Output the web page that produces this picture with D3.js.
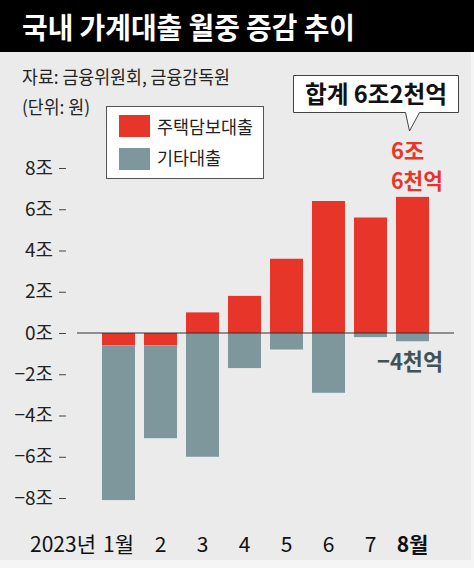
<!DOCTYPE html>
<html>
<head>
<meta charset="utf-8">
<script src="https://cdn.jsdelivr.net/npm/d3@7"></script>
<style>
  body { margin: 0; background: #f5f5f5; }
  svg { display: block; }
  text { font-family: "Liberation Sans Narrow", "Noto Sans CJK KR", sans-serif; }
  .kr { font-family: "Noto Sans CJK KR", sans-serif; }
</style>
</head>
<body>
<svg width="474" height="568"></svg>
<script>
// 월별 가계대출 증감 (조원)
const months = ['1월', '2', '3', '4', '5', '6', '7', '8월'];
const mortgage = [-0.6, -0.6, 1.0, 1.8, 3.6, 6.4, 5.6, 6.6];
const other = [-7.5, -4.5, -6.0, -1.7, -0.8, -2.9, -0.2, -0.4];
const yTicks = [8, 6, 4, 2, 0, -2, -4, -6, -8];
const seriesNames = ['주택담보대출', '기타대출'];
const colors = ['#e8352a', '#7d979c'];

const svg = d3.select('svg');

// background panel + title bar
svg.append('rect').attr('x', 0).attr('y', 0).attr('width', 471).attr('height', 560).attr('fill', '#ebebeb');
svg.append('rect').attr('x', 0).attr('y', 0).attr('width', 474).attr('height', 52).attr('fill', '#000');
svg.append('text').attr('class', 'kr')
  .attr('x', 22).attr('y', 39)
  .attr('fill', '#fff').attr('font-size', 29).attr('font-weight', 700)
  .attr('textLength', 333).attr('lengthAdjust', 'spacingAndGlyphs')
  .text('국내 가계대출 월중 증감 추이');

svg.append('text').attr('class', 'kr').attr('x', 22).attr('y', 84)
  .attr('font-size', 18).attr('fill', '#222')
  .attr('textLength', 208).attr('lengthAdjust', 'spacingAndGlyphs')
  .text('자료: 금융위원회, 금융감독원');
svg.append('text').attr('class', 'kr').attr('x', 22).attr('y', 114)
  .attr('font-size', 18).attr('fill', '#222')
  .attr('textLength', 68).attr('lengthAdjust', 'spacingAndGlyphs')
  .text('(단위: 원)');

// scales
const yScale = d3.scaleLinear().domain([-8, 8]).range([498, 168]);
const xScale = d3.scaleBand().domain(months).range([93, 438]).padding(0.214);

// y axis
const yAxis = svg.append('g')
  .attr('transform', 'translate(66,0)')
  .call(d3.axisLeft(yScale).tickValues(yTicks).tickSize(7).tickPadding(6)
    .tickFormat(d => (d < 0 ? '\u2212' + (-d) : d) + '조'));
yAxis.select('.domain').remove();
yAxis.selectAll('line').attr('stroke', '#444');
yAxis.selectAll('text').attr('font-size', 19).attr('fill', '#222')
  .style('font-family', '"Liberation Sans Narrow", "Noto Sans CJK KR", sans-serif');

// stacked bars (diverging)
const table = months.map((m, i) => ({ month: m, 주택담보대출: mortgage[i], 기타대출: other[i] }));
const stacked = d3.stack().keys(seriesNames).offset(d3.stackOffsetDiverging)(table);

svg.append('g').selectAll('g').data(stacked).enter().append('g')
  .attr('fill', (s, i) => colors[i])
  .selectAll('rect').data(s => s).enter().append('rect')
  .attr('x', d => xScale(d.data.month))
  .attr('y', d => yScale(Math.max(d[0], d[1])))
  .attr('height', d => Math.abs(yScale(d[0]) - yScale(d[1])))
  .attr('width', xScale.bandwidth());

// zero line
svg.append('line')
  .attr('x1', 77).attr('x2', 454)
  .attr('y1', yScale(0)).attr('y2', yScale(0))
  .attr('stroke', '#333').attr('stroke-width', 1);

// x axis
const xAxis = svg.append('g')
  .attr('transform', 'translate(0,532)')
  .call(d3.axisBottom(xScale).tickSize(0).tickPadding(0));
xAxis.select('.domain').remove();
xAxis.selectAll('text').attr('font-size', 21).attr('fill', '#111')
  .attr('dy', '0.95em')
  .style('font-family', '"Liberation Sans Narrow", "Noto Sans CJK KR", sans-serif')
  .attr('font-weight', (d, i) => i === months.length - 1 ? 700 : 400);
svg.append('text')
  .attr('x', 96).attr('y', 552).attr('text-anchor', 'end')
  .attr('font-size', 21).attr('fill', '#111')
  .text('2023년');

// legend
const legend = svg.append('g');
legend.append('rect').attr('x', 106.5).attr('y', 106.5).attr('width', 157).attr('height', 72)
  .attr('fill', '#fff').attr('stroke', '#555');
seriesNames.forEach((name, i) => {
  legend.append('rect').attr('x', 119).attr('y', 115 + i * 33).attr('width', 31).attr('height', 22)
    .attr('fill', colors[i]);
  legend.append('text').attr('class', 'kr').attr('x', 157).attr('y', 134 + i * 31)
    .attr('font-size', 18).attr('fill', '#222')
    .attr('textLength', i === 0 ? 96 : 64).attr('lengthAdjust', 'spacingAndGlyphs')
    .text(name);
});

// total callout for August
const last = months.length - 1;
const cx = xScale(months[last]) + xScale.bandwidth() / 2;
const callout = svg.append('g');
callout.append('path')
  .attr('d', `M293.5,75.5 H458.5 V112.5 H${cx + 7} L${cx - 3},131 L${cx - 7},112.5 H293.5 Z`)
  .attr('fill', '#fff').attr('stroke', '#444');
callout.append('text').attr('class', 'kr')
  .attr('x', 376).attr('y', 103).attr('text-anchor', 'middle')
  .attr('font-size', 24).attr('font-weight', 700).attr('fill', '#111')
  .attr('textLength', 142).attr('lengthAdjust', 'spacingAndGlyphs')
  .text('합계 6조2천억');

svg.append('text').attr('class', 'kr')
  .attr('x', 391).attr('y', 159)
  .attr('font-size', 22).attr('font-weight', 700).attr('fill', colors[0])
  .text('6조');
svg.append('text').attr('class', 'kr')
  .attr('x', 391).attr('y', 189)
  .attr('font-size', 22).attr('font-weight', 700).attr('fill', colors[0])
  .attr('textLength', 52).attr('lengthAdjust', 'spacingAndGlyphs')
  .text('6천억');
svg.append('text').attr('class', 'kr')
  .attr('x', 377).attr('y', 370)
  .attr('font-size', 23).attr('font-weight', 700).attr('fill', '#3f5358')
  .attr('textLength', 66).attr('lengthAdjust', 'spacingAndGlyphs')
  .text('\u22124천억');
</script>
</body>
</html>
